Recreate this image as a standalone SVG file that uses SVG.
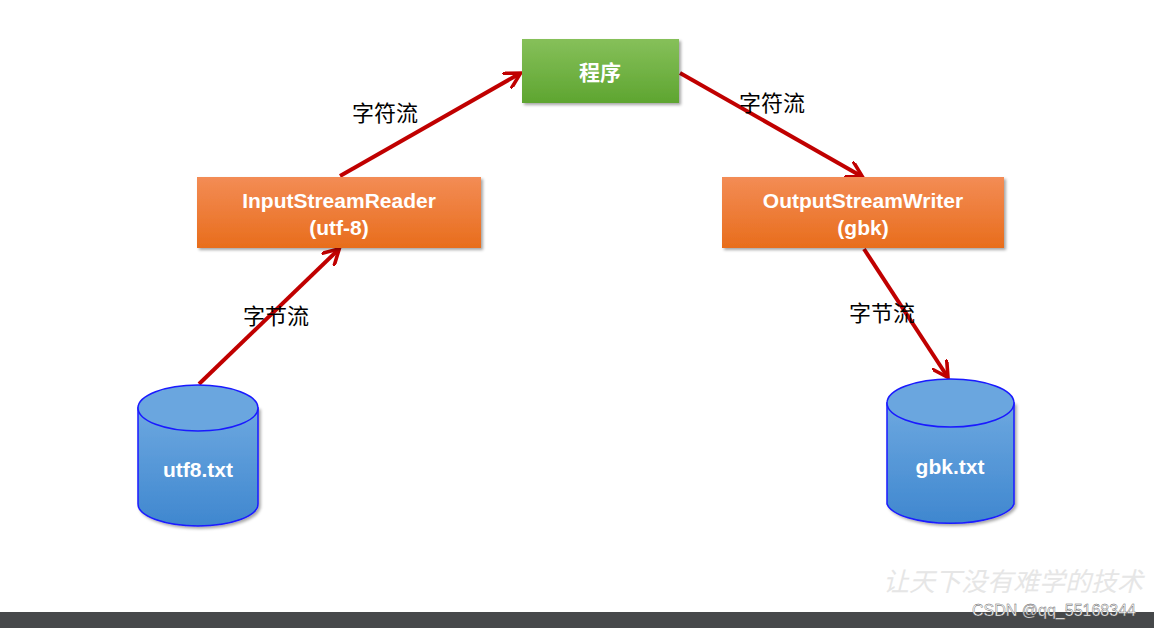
<svg xmlns="http://www.w3.org/2000/svg" width="1154" height="628" viewBox="0 0 1154 628">
<style>
.lbl{font-family:"Liberation Sans","Noto Sans CJK SC",sans-serif;font-size:22px;fill:#000;text-anchor:middle}
.nt{font-family:"Liberation Sans","Noto Sans CJK SC",sans-serif;font-size:21px;font-weight:bold;fill:#fff;text-anchor:middle}
.cn{stroke:#c00000;stroke-width:4;fill:none;marker-end:url(#ah)}
</style>
<defs>
<linearGradient id="og" x1="0" y1="0" x2="0" y2="1"><stop offset="0" stop-color="#f38c55"/><stop offset="1" stop-color="#e86d1c"/></linearGradient>
<linearGradient id="gg" x1="0" y1="0" x2="0" y2="1"><stop offset="0" stop-color="#86c05a"/><stop offset="1" stop-color="#5ea530"/></linearGradient>
<linearGradient id="bg" x1="0" y1="0" x2="0" y2="1"><stop offset="0" stop-color="#6da8e0"/><stop offset="1" stop-color="#3f87cf"/></linearGradient>
<marker id="ah" viewBox="0 0 10 10" refX="8" refY="5" markerWidth="4.5" markerHeight="4.5" orient="auto"><path d="M0,0 L9,5 L0,10" fill="none" stroke="#c00000" stroke-width="2"/></marker>
<filter id="sh"><feDropShadow dx="2" dy="2" stdDeviation="1.5" flood-opacity="0.35"/></filter>
</defs>
<rect width="1154" height="628" fill="#fff"/>
<g id="connectors">
<line class="cn" x1="199" y1="384" x2="338" y2="250"/>
<line class="cn" x1="340" y1="176" x2="519" y2="74"/>
<line class="cn" x1="680" y1="73" x2="861" y2="176"/>
<line class="cn" x1="864" y1="249" x2="947" y2="376"/>
<text class="lbl" x="385" y="121">字符流</text>
<text class="lbl" x="772" y="111">字符流</text>
<text class="lbl" x="276" y="324">字节流</text>
<text class="lbl" x="882" y="321">字节流</text>
</g>
<g id="program"><rect x="522" y="39" width="157" height="64" fill="url(#gg)" filter="url(#sh)"/><text class="nt" x="600" y="80">程序</text></g>
<g id="isr"><rect x="197" y="177" width="284" height="71" fill="url(#og)" filter="url(#sh)"/><text class="nt" x="339" y="208">InputStreamReader</text><text class="nt" x="339" y="235">(utf-8)</text></g>
<g id="osw"><rect x="722" y="177" width="282" height="71" fill="url(#og)" filter="url(#sh)"/><text class="nt" x="863" y="208">OutputStreamWriter</text><text class="nt" x="863" y="235">(gbk)</text></g>
<g id="utf8">
<path d="M138,408 L138,504 A60,22 0 0 0 258,504 L258,408 Z" fill="url(#bg)" stroke="#1a1aff" stroke-width="1.5" filter="url(#sh)"/>
<ellipse cx="198" cy="408" rx="60" ry="23" fill="#6aa6df" stroke="#1a1aff" stroke-width="1.5"/>
<text class="nt" x="198" y="477">utf8.txt</text></g>
<g id="gbk">
<path d="M887,403 L887,504 A64,22 0 0 0 1014,504 L1014,403 Z" fill="url(#bg)" stroke="#1a1aff" stroke-width="1.5" filter="url(#sh)"/>
<ellipse cx="950.5" cy="403" rx="63.5" ry="24" fill="#6aa6df" stroke="#1a1aff" stroke-width="1.5"/>
<text class="nt" x="950" y="474">gbk.txt</text></g>
<text x="1013" y="591" font-family="'Noto Sans CJK SC',sans-serif" font-size="26" fill="#e6e6e6" text-anchor="middle" font-style="italic">让天下没有难学的技术</text>
<rect x="0" y="612" width="1154" height="16" fill="#46484a"/>
<text x="1054" y="616" font-family="'Liberation Sans',sans-serif" font-size="16" fill="#fff" stroke="#555" stroke-width="0.4" text-anchor="middle">CSDN @qq_55168344</text>
</svg>
